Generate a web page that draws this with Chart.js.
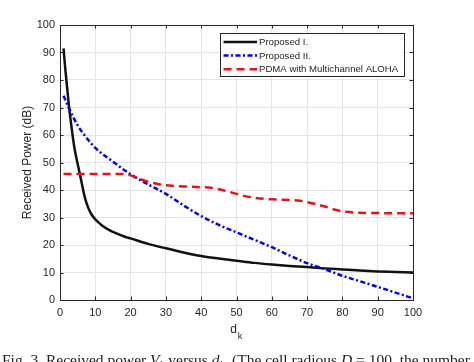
<!DOCTYPE html>
<html>
<head>
<meta charset="utf-8">
<script src="https://cdn.jsdelivr.net/npm/chart.js@4.4.1/dist/chart.umd.min.js"></script>
<style>
  html, body { margin: 0; padding: 0; background: #fff; }
  #wrap { position: relative; width: 474px; height: 362px; overflow: hidden; }
  #caption {
    position: absolute; left: 2px; top: 352px; white-space: nowrap; line-height: 1;
    font-family: "Liberation Serif", "DejaVu Serif", serif; font-size: 15.5px; color: #222;
  }
  #caption sub { font-size: 70%; vertical-align: -3px; line-height: 0; }
</style>
</head>
<body>
<div id="wrap">
  <canvas id="chart" width="474" height="362"></canvas>
  <div id="caption">Fig. 3. Received power <i>V<sub>k</sub></i> versus <i>d<sub>k</sub></i>. (The cell radious <i>D</i> = 100, the number</div>
</div>
<script>
// distances d_k and received power (dB)
const dProposed1 = [1, 1.5, 2, 2.5, 3, 3.5, 4, 4.5, 5, 6, 7, 8, 9, 10, 12, 14, 16, 18, 20, 25, 30, 35, 40, 45, 50, 55, 60, 65, 70, 75, 80, 85, 90, 95, 100];
const powerProposed1 = [91.5, 84, 77.5, 71, 65.5, 60.5, 56, 52.5, 49.5, 43.5, 37.5, 33.5, 31, 29.3, 27, 25.4, 24.2, 23.2, 22.4, 20.4, 18.8, 17.3, 16, 15.1, 14.3, 13.5, 12.9, 12.4, 12, 11.5, 11.1, 10.7, 10.4, 10.2, 10];

const dProposed2 = [1, 2.5, 5, 7.5, 10, 15, 20, 25, 30, 35, 40, 45, 50, 55, 60, 65, 70, 75, 80, 85, 90, 95, 100];
const powerProposed2 = [74.3, 69.8, 63.5, 59, 55.3, 50.3, 45.7, 42, 38.6, 34.4, 30.5, 27.3, 24.6, 21.9, 19.2, 16.2, 13.4, 11.2, 8.8, 6.8, 4.8, 2.7, 0.6];

const dPdma = [1, 5, 10, 15, 18, 20, 22, 25, 28, 30, 35, 40, 42, 45, 48, 50, 53, 56, 60, 65, 68, 70, 72, 75, 78, 80, 83, 90, 100];
const powerPdma = [45.8, 45.8, 45.8, 45.8, 45.8, 45.3, 44.3, 43, 42.1, 41.7, 41.3, 41, 40.9, 40.3, 39.3, 38.6, 37.6, 37, 36.6, 36.4, 36.1, 35.6, 35, 34, 32.8, 32.2, 31.8, 31.6, 31.5];

const seriesNames = ['Proposed I.', 'Proposed II.', 'PDMA with Multichannel ALOHA'];
const xTitle = 'd';
const xTitleSub = 'k';
const yTitle = 'Received Power (dB)';

const toPoints = (xs, ys) => xs.map((x, i) => ({ x: x, y: ys[i] }));

const axisColor = '#262626';
const font = '"Liberation Sans", Arial, sans-serif';

// MATLAB-like box, inward ticks, axis titles and legend
const matlabBox = {
  id: 'matlabBox',
  afterDraw(chart) {
    const { ctx, chartArea: a, scales } = chart;
    const x = scales.x, y = scales.y;
    ctx.save();
    ctx.strokeStyle = axisColor;
    ctx.lineWidth = 1;
    ctx.strokeRect(Math.round(a.left) + 0.5, Math.round(a.top) + 0.5, Math.round(a.width), Math.round(a.height));

    const tl = 3.5;
    ctx.beginPath();
    x.ticks.forEach(t => {
      const px = Math.round(x.getPixelForValue(t.value)) + 0.5;
      ctx.moveTo(px, a.bottom); ctx.lineTo(px, a.bottom - tl);
      ctx.moveTo(px, a.top); ctx.lineTo(px, a.top + tl);
    });
    y.ticks.forEach(t => {
      const py = Math.round(y.getPixelForValue(t.value)) + 0.5;
      ctx.moveTo(a.left, py); ctx.lineTo(a.left + tl, py);
      ctx.moveTo(a.right, py); ctx.lineTo(a.right - tl, py);
    });
    ctx.stroke();

    // axis titles
    ctx.fillStyle = axisColor;
    ctx.font = '12px ' + font;
    ctx.textBaseline = 'alphabetic';
    ctx.textAlign = 'center';
    const cx = (a.left + a.right) / 2;
    ctx.fillText(xTitle, cx - 3, 333);
    ctx.font = '9px ' + font;
    ctx.fillText(xTitleSub, cx + 3.5, 339);

    ctx.save();
    ctx.font = '12px ' + font;
    ctx.translate(31, (a.top + a.bottom) / 2);
    ctx.rotate(-Math.PI / 2);
    ctx.fillText(yTitle, 0, 0);
    ctx.restore();

    // legend
    const lx = 220.5, ly = 33.5, lw = 184, lh = 43;
    ctx.fillStyle = '#fff';
    ctx.fillRect(lx, ly, lw, lh);
    ctx.strokeStyle = '#262626';
    ctx.lineWidth = 1;
    ctx.strokeRect(lx, ly, lw, lh);
    ctx.font = '9.6px ' + font;
    ctx.textAlign = 'left';
    ctx.textBaseline = 'middle';
    chart.data.datasets.forEach((ds, i) => {
      const yy = 42 + i * 13.6;
      ctx.save();
      ctx.strokeStyle = ds.borderColor;
      ctx.lineWidth = ds.borderWidth;
      ctx.setLineDash(ds.borderDash || []);
      ctx.beginPath();
      ctx.moveTo(223.5, yy); ctx.lineTo(257, yy);
      ctx.stroke();
      ctx.restore();
      ctx.fillStyle = '#262626';
      ctx.fillText(ds.label, 259, yy + 0.5);
    });
    ctx.restore();
  }
};

new Chart(document.getElementById('chart'), {
  type: 'line',
  data: {
    datasets: [
      {
        label: seriesNames[0],
        data: toPoints(dProposed1, powerProposed1),
        borderColor: '#111111',
        borderWidth: 2.5,
        order: 2
      },
      {
        label: seriesNames[1],
        data: toPoints(dProposed2, powerProposed2),
        borderColor: '#0000f0',
        borderWidth: 2.5,
        borderDash: [5, 2.5, 2, 2.5],
        order: 1
      },
      {
        label: seriesNames[2],
        data: toPoints(dPdma, powerPdma),
        borderColor: '#e8101a',
        borderWidth: 2.5,
        borderDash: [8, 5],
        order: 0
      }
    ]
  },
  options: {
    responsive: false,
    animation: false,
    events: [],
    layout: { padding: { left: 0, right: 61, top: 25, bottom: 28 } },
    elements: {
      point: { radius: 0 },
      line: { cubicInterpolationMode: 'monotone', fill: false }
    },
    plugins: { legend: { display: false }, tooltip: { enabled: false } },
    scales: {
      x: {
        type: 'linear', min: 0, max: 100,
        afterFit: s => { s.height = 34; },
        ticks: { stepSize: 10, color: axisColor, font: { family: font, size: 11 }, padding: 6, maxRotation: 0 },
        grid: { color: '#e4e4e4', drawTicks: false },
        border: { display: false }
      },
      y: {
        type: 'linear', min: 0, max: 100,
        afterFit: s => { s.width = 60; },
        ticks: { stepSize: 10, color: axisColor, font: { family: font, size: 11 }, padding: 5 },
        grid: { color: '#e4e4e4', drawTicks: false },
        border: { display: false }
      }
    }
  },
  plugins: [matlabBox]
});
</script>
</body>
</html>
